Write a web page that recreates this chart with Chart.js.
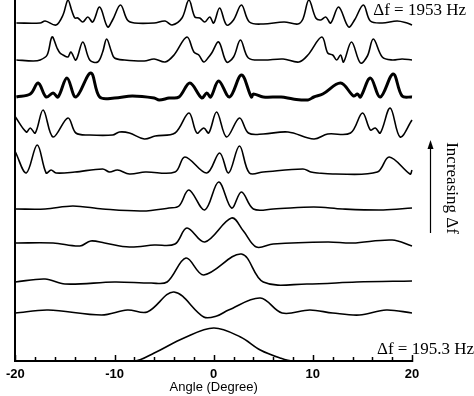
<!DOCTYPE html>
<html>
<head>
<meta charset="utf-8">
<script src="https://cdn.jsdelivr.net/npm/chart.js@4/dist/chart.umd.min.js"></script>
<style>
    html, body { margin: 0; padding: 0; background: #fff; }
</style>
</head>
<body>
<canvas id="waterfallChart" width="474" height="396"></canvas>
<script>
const angleTicks = [-20, -10, 0, 10, 20];
const minorAngleTicks = [-18, -16, -14, -12, -8, -6, -4, -2, 2, 4, 6, 8, 12, 14, 16, 18];
const xTitle = 'Angle (Degree)';
const topLabel = 'Δf = 1953 Hz';
const bottomLabel = 'Δf = 195.3 Hz';
const sideLabel = 'Increasing Δf';

// baseline of each trace, from the top one (1953 Hz) down to 195.3 Hz
const traceLevels = [338, 301, 264, 226, 189, 152, 118, 79, 48, 0];

// [angle, amplitude]
const trace1 = [[-19.9, 0], [-17.5, 0], [-17.0, 2], [-15.9, -2], [-15.2, 8], [-14.7, 23], [-14.3, 12], [-14.0, 5],
    [-13.7, 5], [-13.2, 1], [-12.7, 6], [-12.2, 1], [-11.5, 16], [-10.7, -4], [-10.2, 3], [-9.4, 18], [-8.7, 3],
    [-8.0, 0], [-6.0, 0], [-4.9, 2], [-4.2, -2], [-3.2, 5], [-2.5, 23], [-1.9, 6], [-1.4, 5], [-0.9, 1], [-0.4, 6],
    [0.0, 0], [0.6, 15], [1.3, -2], [2.0, 3], [2.8, 18], [3.6, 1], [5.0, -1], [7.1, 1], [8.5, -1], [9.0, 4],
    [9.6, 23], [10.3, 5], [10.8, 3], [11.3, 6], [11.8, 0], [12.6, 16], [13.6, -4], [14.2, 3], [15.1, 18],
    [15.8, 2], [17.0, 0], [18.5, 2], [19.5, 0], [20.0, -2]];
const trace2 = [[-19.9, 0], [-18.2, -1], [-17.5, 0], [-16.8, 5], [-16.3, 23], [-15.8, 12], [-15.5, 7], [-15.2, 5],
    [-14.7, 3], [-14.4, 8], [-13.9, 0], [-13.2, 18], [-12.5, 0], [-11.7, -2], [-11.2, 8], [-10.8, 21], [-10.3, 8],
    [-10.0, 2], [-9.0, 0], [-7.0, -1], [-6.0, 1], [-4.9, -2], [-4.0, 5], [-2.7, 23], [-2.0, 8], [-1.5, 5],
    [-1.0, -2], [-0.5, 3], [-0.2, 7], [0.5, 18], [1.3, -2], [2.0, 3], [2.7, 20], [3.5, 2], [5.0, 0], [7.0, 1],
    [8.6, -2], [9.5, 5], [10.9, 23], [11.5, 7], [12.0, 5], [12.4, 0], [12.8, 5], [13.1, -2], [13.9, 18],
    [14.8, -3], [15.5, 4], [16.1, 21], [17.0, 3], [18.0, 0], [19.0, 1], [20.0, 0]];
const trace3 = [[-19.9, 0], [-18.5, 3], [-17.7, 14], [-16.9, 0], [-16.2, 4], [-15.7, 0], [-14.8, 19], [-13.9, 0],
    [-12.4, 24], [-11.5, 0], [-10.0, -1], [-8.2, 1], [-6.0, -1], [-5.5, -3], [-4.5, -1], [-3.5, 0], [-2.4, 14],
    [-1.2, -1], [-0.7, 4], [-0.3, 0], [0.5, 16], [1.6, 0], [2.8, 22], [3.8, 0], [4.0, 3], [5.0, 0], [6.8, 0],
    [8.0, -2], [9.5, -3], [10.1, 0], [11.0, 3], [12.8, 14], [14.1, 1], [14.5, 3], [14.8, 0], [15.8, 19],
    [16.8, 0], [18.1, 23], [19.0, 1], [20.0, 0]];
const trace4 = [[-20.0, 18], [-18.9, 3], [-18.5, 7], [-18.0, 2], [-17.2, 25], [-16.2, -2], [-14.7, 17], [-13.9, 2],
    [-12.5, 0], [-10.2, 0], [-9.5, 3], [-8.5, 2], [-7.0, -4], [-5.9, -1], [-3.9, 2], [-2.5, 22], [-1.7, 2],
    [-1.0, 7], [-0.5, 2], [0.3, 23], [1.3, -2], [2.6, 17], [3.5, 2], [5.0, 1], [7.5, 3], [10.1, -4], [11.5, 1],
    [13.8, 2], [15.0, 22], [15.8, 5], [16.3, 7], [16.8, 2], [17.8, 27], [18.8, -2], [20.0, 15]];
const trace5 = [[-20.0, 20], [-18.9, -1], [-17.8, 27], [-16.9, -1], [-16.4, 2], [-15.9, -1], [-14.0, 0],
    [-11.2, 3], [-10.5, 0], [-9.7, 2], [-8.5, -2], [-6.9, 0], [-3.9, 0], [-2.9, 15], [-0.7, -1], [0.6, 19],
    [1.5, -1], [2.6, 26], [3.6, -1], [5.0, 0], [9.0, 3], [9.8, 0], [10.5, -1], [12.1, -2], [16.5, 0],
    [17.7, 15], [19.8, -2], [20.0, 2]];
const trace6 = [[-20.0, 0], [-17.0, 0], [-14.2, 3], [-11.2, 0], [-7.2, -2], [-4.5, 1], [-3.5, 3], [-2.5, 19],
    [-0.9, -1], [0.5, 27], [1.8, 1], [2.8, 17], [4.0, 0], [6.0, 0], [10.1, 2], [13.0, 0], [17.1, -1], [20.0, 1]];
const trace7 = [[-20.0, 0], [-16.2, 0], [-13.5, -3], [-12.4, 2], [-11.0, 0], [-8.5, -4], [-6.0, -2], [-3.9, -1],
    [-2.7, 15], [-0.9, 1], [1.8, 25], [3.0, 12], [4.3, -4], [6.0, -1], [11.5, 1], [14.0, 0], [18.0, 3], [20.0, -3]];
const trace8 = [[-20.0, 0], [-17.0, 3], [-15.0, -2], [-10.0, 0], [-6.3, -1], [-4.7, 0], [-2.8, 24], [-1.0, 7],
    [2.8, 28], [5.0, 0], [9.4, -2], [14.4, 0], [20.0, 1]];
const trace9 = [[-20.0, 0], [-16.7, 3], [-11.3, -2], [-8.7, 3], [-6.7, 1], [-4.0, 21], [-1.0, -4], [0.3, -3],
    [1.5, 3], [4.7, 15], [6.9, 0], [9.7, 3], [12.0, 0], [14.7, -2], [17.4, 3], [20.0, 0]];
const trace10 = [[-20.0, 0], [-8.0, 0], [-6.0, 8], [-3.0, 23], [0.0, 33], [2.7, 24], [4.7, 11], [6.7, 3],
    [8.0, 0], [20.0, 0]];

const traces = [trace1, trace2, trace3, trace4, trace5, trace6, trace7, trace8, trace9, trace10];

const serif = '"Liberation Serif", "Times New Roman", serif';
const sans = '"Liberation Sans", Arial, sans-serif';

// inward ticks on the angle axis + the text notes around the plot
const extrasPlugin = {
    id: 'extras',
    afterDraw(chart) {
        const ctx = chart.ctx;
        const xs = chart.scales.x;
        const bottom = chart.chartArea.bottom;

        ctx.save();
        ctx.strokeStyle = '#000';
        ctx.lineWidth = 1.5;
        ctx.beginPath();
        minorAngleTicks.forEach(v => {
            const px = Math.round(xs.getPixelForValue(v)) + 0.5;
            ctx.moveTo(px, bottom);
            ctx.lineTo(px, bottom - 4);
        });
        angleTicks.forEach(v => {
            const px = Math.round(xs.getPixelForValue(v)) + 0.5;
            ctx.moveTo(px, bottom + 1);
            ctx.lineTo(px, bottom - 6);
        });
        ctx.stroke();

        ctx.fillStyle = '#000';
        ctx.font = '17px ' + serif;
        ctx.textAlign = 'right';
        ctx.textBaseline = 'middle';
        ctx.fillText(topLabel, 466, 11);
        ctx.fillText(bottomLabel, 474, 350);

        // arrow
        ctx.lineWidth = 1.2;
        ctx.beginPath();
        ctx.moveTo(430.5, 233);
        ctx.lineTo(430.5, 146);
        ctx.stroke();
        ctx.beginPath();
        ctx.moveTo(430.5, 140);
        ctx.lineTo(427.5, 149);
        ctx.lineTo(433.5, 149);
        ctx.closePath();
        ctx.fill();

        ctx.translate(451, 188);
        ctx.rotate(Math.PI / 2);
        ctx.textAlign = 'center';
        ctx.fillText(sideLabel, 0, 0);
        ctx.restore();
    }
};

new Chart(document.getElementById('waterfallChart'), {
    type: 'line',
    data: {
        datasets: traces.map((t, i) => ({
            data: t.map(p => ({ x: p[0], y: traceLevels[i] + p[1] })),
            borderColor: '#000',
            borderWidth: i === 2 ? 3 : 1.6,
            pointRadius: 0,
            tension: 0.35,
            fill: false,
            clip: false
        }))
    },
    options: {
        responsive: false,
        animation: false,
        layout: { padding: { left: 9, right: 62, top: 0, bottom: 0 } },
        plugins: {
            legend: { display: false },
            tooltip: { enabled: false }
        },
        scales: {
            x: {
                type: 'linear',
                min: -20,
                max: 20,
                afterBuildTicks: s => { s.ticks = angleTicks.map(v => ({ value: v })); },
                afterFit: s => { s.height = 35; },
                grid: { display: false, drawTicks: false },
                border: { display: true, color: '#000', width: 2 },
                ticks: {
                    color: '#000',
                    padding: 6,
                    maxRotation: 0,
                    font: { family: sans, size: 13, weight: 'bold' }
                },
                title: {
                    display: true,
                    text: xTitle,
                    color: '#000',
                    padding: { top: 0, bottom: 1 },
                    font: { family: sans, size: 13 }
                }
            },
            y: {
                min: 0,
                max: 361,
                afterFit: s => { s.width = 0; },
                grid: { display: false, drawTicks: false },
                border: { display: true, color: '#000', width: 2 },
                ticks: { display: false }
            }
        }
    },
    plugins: [extrasPlugin]
});
</script>
</body>
</html>
